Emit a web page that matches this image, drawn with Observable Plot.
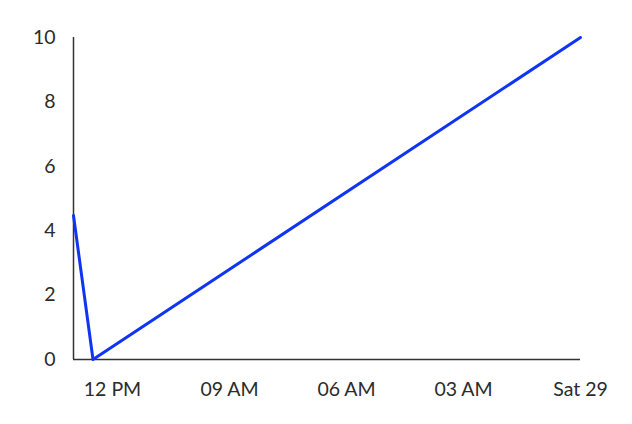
<!DOCTYPE html>
<html>
<head>
<meta charset="utf-8">
<script src="https://cdn.jsdelivr.net/npm/d3@7"></script>
<script src="https://cdn.jsdelivr.net/npm/@observablehq/plot@0.6"></script>
<style>
  html, body { margin: 0; padding: 0; background: #fff; }
  #chart { width: 632px; height: 424px; }
</style>
</head>
<body>
<div id="chart"></div>
<script>
const times = ["2023-04-29T13:00:00Z", "2023-04-29T12:30:00Z", "2023-04-29T00:00:00Z"];
const values = [4.47, 0, 10];
const yTicks = [0, 2, 4, 6, 8, 10];

const data = times.map((t, i) => ({date: new Date(t), value: values[i]}));
const xMax = d3.max(data, d => d.date);

const fmtHour = d3.utcFormat("%I %p");
const fmtDay = d3.utcFormat("%a %d");
const tickFmt = d => (d.getUTCHours() === 0 && d.getUTCMinutes() === 0) ? fmtDay(d) : fmtHour(d);

const chart = Plot.plot({
  width: 632,
  height: 424,
  marginLeft: 73,
  marginRight: 52,
  marginTop: 37,
  marginBottom: 65,
  style: {fontFamily: "Lato, sans-serif", fontSize: "19.5px", color: "#2b2b2b", background: "#fff"},
  x: {type: "utc", reverse: true, domain: d3.extent(data, d => d.date)},
  y: {domain: [0, 10]},
  marks: [
    Plot.axisX({ticks: d3.utcHour.every(3), tickFormat: tickFmt, tickSize: 0, tickPadding: 23, fontSize: 19.5, label: null, fill: "#2b2b2b"}),
    Plot.axisY({ticks: yTicks, tickSize: 0, tickPadding: 18, fontSize: 19.5, label: null, fill: "#2b2b2b"}),
    Plot.ruleY([0], {stroke: "#333", strokeWidth: 1.5}),
    Plot.ruleX([xMax], {stroke: "#333", strokeWidth: 1.5}),
    Plot.line(data, {x: "date", y: "value", stroke: "#0f35f2", strokeWidth: 3})
  ]
});
document.getElementById("chart").appendChild(chart);
</script>
</body>
</html>
